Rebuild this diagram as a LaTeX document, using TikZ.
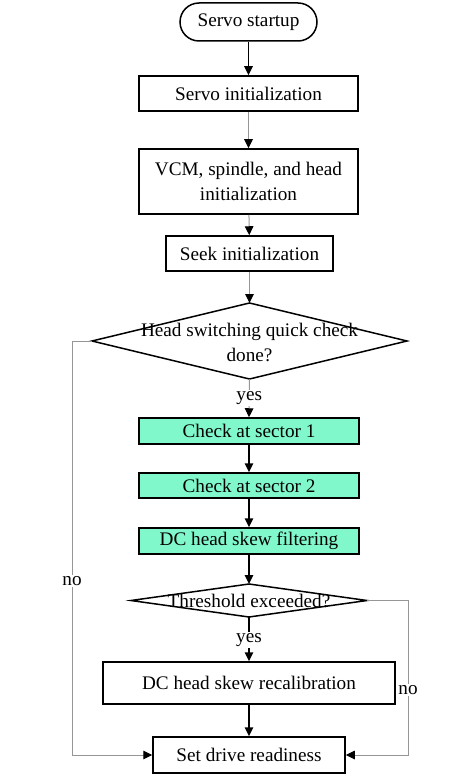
\documentclass[tikz,border=0pt]{standalone}
\usepackage{fontspec}
\setmainfont{Liberation Serif}
\usetikzlibrary{arrows.meta,shapes.geometric}
\definecolor{boxgreen}{RGB}{128,248,204}
\definecolor{lgray}{RGB}{150,150,150}
\begin{document}
\begin{tikzpicture}[x=1pt,y=-1pt,
  font=\fontsize{19.2}{25}\selectfont,
  boxnode/.style={draw,line width=1.5pt,inner sep=0pt,align=center},
  greennode/.style={boxnode,fill=boxgreen},
  decide/.style={draw,line width=1.5pt,shape=diamond,inner sep=0pt,outer sep=0pt},
  txt/.style={inner sep=0pt,align=center},
  blk/.style={line width=1.6pt,-{Triangle[length=9pt,width=8.5pt]}},
  gry/.style={line width=1pt,draw=lgray,-{Triangle[length=9pt,width=8.5pt,black]}},
  lbl/.style={fill=white,inner sep=1.5pt}
]
\useasboundingbox (0,0) rectangle (474,778);
\node[boxnode,rounded corners=19pt,minimum width=137pt,minimum height=38pt] (start) at (248.5,22) {Servo startup};
\node[boxnode,minimum width=219pt,minimum height=35pt] (init) at (248.5,93.5) {Servo initialization};
\node[boxnode,minimum width=219pt,minimum height=65pt] (vcm) at (248.5,181.5) {VCM, spindle, and head\\initialization};
\node[boxnode,minimum width=167pt,minimum height=35pt] (seek) at (249.5,253.5) {Seek initialization};
\node[decide,minimum width=315pt,minimum height=76pt] (d1) at (249.5,341) {};
\node[txt] (d1t) at (249.5,342) {Head switching quick check\\done?};
\node[greennode,minimum width=220pt,minimum height=26pt] (c1) at (249,431) {Check at sector 1};
\node[greennode,minimum width=220pt,minimum height=25pt] (c2) at (249,485.5) {Check at sector 2};
\node[greennode,minimum width=220pt,minimum height=26pt] (filt) at (249,541) {DC head skew filtering};
\node[decide,minimum width=236pt,minimum height=33pt] (d2) at (249,600.5) {};
\node[txt] (d2t) at (249,601) {Threshold exceeded?};
\node[boxnode,minimum width=292pt,minimum height=42pt] (recal) at (249,683) {DC head skew recalibration};
\node[boxnode,minimum width=192pt,minimum height=36pt] (set) at (249,755) {Set drive readiness};
\coordinate (lx) at (72,341);
\coordinate (ly) at (72,755);
\coordinate (rx) at (408,600.5);
\coordinate (ry) at (408,755);

\draw[blk] (start) -- (init);
\draw[gry] (init) -- (vcm);
\draw[gry] (vcm) -- (seek);
\draw[gry] (seek.south) -- (seek.south |- d1.north);
\draw[gry] (d1.south) -- node[lbl] (yes1) {yes} (c1.north);
\draw[blk] (c1) -- (c2);
\draw[blk] (c2) -- (filt);
\draw[blk] (filt.south) -- (d2.north);
\draw[blk] (d2.south) -- node[lbl,pos=0.52] (yes2) {yes} (recal.north);
\draw[blk] (recal) -- (set);
\draw[gry] (d1.west) -- (lx) -- node[lbl,pos=0.58] (no1) {no} (ly) -- (set.west);
\draw[gry] (d2.east) -- (rx) -- node[lbl,pos=0.58] (no2) {no} (ry) -- (set.east);
\end{tikzpicture}
\end{document}
